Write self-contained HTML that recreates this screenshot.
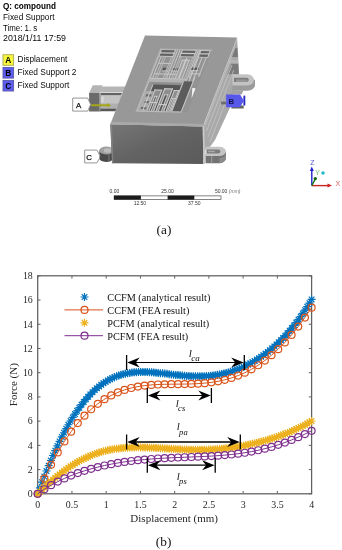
<!DOCTYPE html>
<html lang="en"><head><meta charset="utf-8"><title>Figure</title>
<style>html,body{margin:0;padding:0;background:#fff}body{width:342px;height:550px;overflow:hidden}svg{display:block}</style>
</head><body>
<svg width="342" height="550" viewBox="0 0 342 550">
<defs>
<g id="st"><path d="M-4.0 0H4.0M0 -4.0V4.0M-2.80 -2.80L2.80 2.80M-2.80 2.80L2.80 -2.80" fill="none" stroke-width="1.2"/></g>
<circle id="ci" r="3.5" fill="none" stroke-width="1.2"/>
</defs>
<rect width="342" height="550" fill="#fff"/>
<defs><linearGradient id="fg" x1="0" y1="0" x2="1" y2="1"><stop offset="0" stop-color="#767676"/><stop offset="0.5" stop-color="#636363"/><stop offset="1" stop-color="#5a5a5a"/></linearGradient></defs>
<g id="model">
<polygon points="102,86.4 127,86.4 124.5,92.6 99.5,92.6" fill="#b6b6b6"/>
<polygon points="100.5,93 122,93 121,95.5 100.5,95.5" fill="#636363"/>
<polygon points="99.5,95.5 122,95.5 118.5,104 99.5,104" fill="#c4c4c4"/>
<polygon points="99.5,103.6 119,103.6 116.5,108.6 99.5,108.6" fill="#b0b0b0"/>
<polygon points="99.5,108.6 116.5,108.6 115.4,111.2 99.5,111.2" fill="#585858"/>
<polygon points="92.8,85.2 102.6,85.2 99.6,93 89.1,93" fill="#b4b4b4"/>
<rect x="89.1" y="93" width="10.4" height="18.5" fill="#6a6a6a"/>
<rect x="99.5" y="93" width="1" height="18.5" fill="#8a8a8a"/>
<rect x="101.3" y="96.5" width="2.2" height="6" fill="#dadada"/>
<path d="M91.2 104.2H107.4V102.9l3.7 2.3l-3.7 2.3V106.2H91.2z" fill="#a6a61a"/>
<path d="M99.3 150.6v7.6a7 3.8 0 0 0 13 1.8V150.6z" fill="#4a4a4a"/>
<rect x="108.4" y="153.5" width="1.1" height="8" fill="#777"/>
<ellipse cx="106.4" cy="150.5" rx="7.2" ry="3.9" fill="#a0a0a0"/>
<ellipse cx="107.8" cy="150.5" rx="4" ry="2.2" fill="#bcbcbc"/>
<polygon points="202.7,126.6 237.1,37.4 239.2,75 233.3,92 230.3,106.9 215,140 210.4,146.3 205,150 203.4,164" fill="#a9a9a9"/>
<polygon points="234.6,47.8 237.4,47.8 237.9,57 231.2,57" fill="#7a7a7a"/>
<polygon points="231.4,63.5 238.2,63.5 238.7,74.3 227.4,74.3" fill="#7a7a7a"/>
<polygon points="229.8,59.8 238,59.8 238.2,63.5 228.4,63.5" fill="#b4b4b4"/>
<path d="M236.6 39.2L203.8 124.6" stroke="#d2d2d2" stroke-width="1.0" fill="none"/>
<path d="M235.3 47L205 125.6" stroke="#c4c4c4" stroke-width="0.8" fill="none"/>
<path d="M232 65L206.5 131" stroke="#c6c6c6" stroke-width="0.8" fill="none"/>
<path d="M233.8 70L208 137" stroke="#c0c0c0" stroke-width="0.8" fill="none"/>
<path d="M226.3 100L210 142" stroke="#c6c6c6" stroke-width="0.8" fill="none"/>
<path d="M232.3 80v10.7H247.5a7.5 5.5 0 0 0 7.5-5.5v-5.5z" fill="#9b9b9b"/>
<path d="M232.3 74.3H247.4a6.6 5.55 0 0 1 0 11.1H232.3z" fill="#c3c3c3"/>
<path d="M234 77.8H246.4a2.4 2.05 0 0 1 0 4.1H234z" fill="#7d7d7d"/>
<path d="M236 79.6H246a1.3 1.1 0 0 1 0 2.3H236z" fill="#959595"/>
<polygon points="232,90.5 243.5,90.5 241.5,94.6 230.5,94.6" fill="#a2a2a2"/>
<rect x="221" y="101.6" width="5.5" height="2.8" fill="#6e6e6e"/>
<path d="M205.5 154v9.3H219a7 5.5 0 0 0 7-5.5V152z" fill="#737373"/>
<path d="M219.5 163.2a7 5.5 0 0 0 6.5-5.5V153a7 5 0 0 1-6.5 5z" fill="#8c8c8c"/>
<path d="M205.5 146.8H219.3a6.6 4.6 0 0 1 0 9.2H205.5z" fill="#c4c4c4"/>
<path d="M206.8 149.4H218a2.4 2 0 0 1 0 4H206.8z" fill="#7c7c7c"/>
<rect x="208" y="150.8" width="7" height="1.4" fill="#a8a8a8"/>
<rect x="211.2" y="156" width="1" height="7.3" fill="#a0a0a0"/>
<polygon points="110.3,124.3 202.7,126.6 203.4,164 112,163.2" fill="url(#fg)"/>
<polygon points="110.3,124.3 112,124.4 113.4,163.2 112,163.2" fill="#828282"/>
<polygon points="202.7,126.6 204.3,126 205,164 203.4,164" fill="#c8c8c8"/>
<polygon points="145,35.5 237.1,37.4 202.7,126.6 110.3,124.3" fill="#989898"/>
<polygon points="111.3,121.8 204.4,124.1 202.7,126.6 110.3,124.3" fill="#a9a9a9"/>
<g transform="matrix(92.2 2.1 -34.7 88.8 145 35.5)">
<rect x="0.2250" y="0.1450" width="0.5550" height="0.7050" fill="#939393"/>
<rect x="0.2300" y="0.1480" width="0.1650" height="0.0840" fill="#c9c9c9"/>
<rect x="0.2420" y="0.1580" width="0.1410" height="0.0250" fill="#626262"/>
<rect x="0.2420" y="0.1970" width="0.1410" height="0.0260" fill="#626262"/>
<rect x="0.4570" y="0.1480" width="0.1650" height="0.0840" fill="#c9c9c9"/>
<rect x="0.4690" y="0.1580" width="0.1410" height="0.0250" fill="#626262"/>
<rect x="0.4690" y="0.1970" width="0.1410" height="0.0260" fill="#626262"/>
<rect x="0.6570" y="0.1480" width="0.1150" height="0.0840" fill="#c9c9c9"/>
<rect x="0.6690" y="0.1580" width="0.0910" height="0.0250" fill="#626262"/>
<rect x="0.6690" y="0.1970" width="0.0910" height="0.0260" fill="#626262"/>
<rect x="0.4050" y="0.1480" width="0.0110" height="0.3220" fill="#c9c9c9"/>
<rect x="0.4320" y="0.1480" width="0.0110" height="0.3220" fill="#c9c9c9"/>
<rect x="0.6300" y="0.1480" width="0.0110" height="0.3220" fill="#c9c9c9"/>
<rect x="0.6480" y="0.1480" width="0.0110" height="0.3220" fill="#c9c9c9"/>
<rect x="0.2280" y="0.2320" width="0.0110" height="0.6180" fill="#c9c9c9"/>
<rect x="0.2550" y="0.2320" width="0.0110" height="0.2380" fill="#c9c9c9"/>
<rect x="0.2660" y="0.3000" width="0.1340" height="0.0110" fill="#c9c9c9"/>
<rect x="0.3300" y="0.3550" width="0.0350" height="0.0300" fill="#555"/>
<rect x="0.4450" y="0.3550" width="0.0650" height="0.0300" fill="#555"/>
<rect x="0.6400" y="0.3450" width="0.0750" height="0.0300" fill="#555"/>
<rect x="0.3300" y="0.3850" width="0.0700" height="0.0110" fill="#c9c9c9"/>
<rect x="0.4450" y="0.3850" width="0.0750" height="0.0110" fill="#c9c9c9"/>
<rect x="0.6400" y="0.3750" width="0.0800" height="0.0110" fill="#c9c9c9"/>
<rect x="0.6600" y="0.2320" width="0.0110" height="0.3280" fill="#c9c9c9"/>
<rect x="0.7000" y="0.2320" width="0.0110" height="0.2680" fill="#c9c9c9"/>
<rect x="0.7450" y="0.2320" width="0.0110" height="0.2180" fill="#c9c9c9"/>
<rect x="0.6600" y="0.4100" width="0.1000" height="0.0110" fill="#c9c9c9"/>
<rect x="0.2850" y="0.2320" width="0.0090" height="0.2380" fill="#bdbdbd"/>
<rect x="0.3050" y="0.2320" width="0.0090" height="0.2380" fill="#bdbdbd"/>
<rect x="0.3700" y="0.2320" width="0.0090" height="0.2380" fill="#bdbdbd"/>
<rect x="0.3880" y="0.2320" width="0.0090" height="0.2380" fill="#bdbdbd"/>
<rect x="0.4600" y="0.2320" width="0.0090" height="0.2380" fill="#bdbdbd"/>
<rect x="0.4780" y="0.2320" width="0.0090" height="0.2380" fill="#bdbdbd"/>
<rect x="0.6000" y="0.2320" width="0.0090" height="0.2380" fill="#bdbdbd"/>
<rect x="0.6150" y="0.2320" width="0.0090" height="0.2380" fill="#bdbdbd"/>
<rect x="0.2660" y="0.4200" width="0.2340" height="0.0110" fill="#c9c9c9"/>
<rect x="0.2220" y="0.1400" width="0.5630" height="0.0100" fill="#b4b4b4"/>
<rect x="0.2180" y="0.1400" width="0.0110" height="0.7150" fill="#b4b4b4"/>
<rect x="0.5000" y="0.2600" width="0.0850" height="0.2100" fill="#a2a2a2"/>
<rect x="0.5000" y="0.2600" width="0.0110" height="0.2100" fill="#c9c9c9"/>
<rect x="0.5740" y="0.2600" width="0.0110" height="0.2100" fill="#c9c9c9"/>
<rect x="0.5350" y="0.2400" width="0.0150" height="0.2300" fill="#d0d0d0"/>
<rect x="0.5000" y="0.2600" width="0.0850" height="0.0120" fill="#c9c9c9"/>
<rect x="0.2350" y="0.4710" width="0.4050" height="0.0450" fill="#b2b2b2"/>
<rect x="0.2350" y="0.4710" width="0.4050" height="0.0100" fill="#c6c6c6"/>
<rect x="0.2850" y="0.5270" width="0.4200" height="0.0180" fill="#8c8c8c"/>
<rect x="0.2850" y="0.5450" width="0.3150" height="0.2950" fill="#565656"/>
<rect x="0.6000" y="0.5000" width="0.1050" height="0.3400" fill="#5c5c5c"/>
<rect x="0.2400" y="0.6200" width="0.0900" height="0.2300" fill="#ababab"/>
<rect x="0.2620" y="0.6550" width="0.0580" height="0.0250" fill="#686868"/>
<rect x="0.2750" y="0.7300" width="0.0450" height="0.0250" fill="#686868"/>
<rect x="0.2620" y="0.8000" width="0.0580" height="0.0220" fill="#686868"/>
<rect x="0.3300" y="0.6000" width="0.0850" height="0.2400" fill="#8d8d8d"/>
<rect x="0.3300" y="0.6000" width="0.0850" height="0.0120" fill="#c9c9c9"/>
<rect x="0.3300" y="0.6000" width="0.0120" height="0.2400" fill="#c9c9c9"/>
<rect x="0.4030" y="0.6000" width="0.0120" height="0.2400" fill="#c9c9c9"/>
<rect x="0.3550" y="0.6700" width="0.0350" height="0.1700" fill="#565656"/>
<rect x="0.3550" y="0.6700" width="0.0350" height="0.0120" fill="#c9c9c9"/>
<rect x="0.3550" y="0.6700" width="0.0120" height="0.1700" fill="#c9c9c9"/>
<rect x="0.3780" y="0.6700" width="0.0120" height="0.1700" fill="#c9c9c9"/>
<rect x="0.4300" y="0.5850" width="0.0950" height="0.2550" fill="#8d8d8d"/>
<rect x="0.4300" y="0.5850" width="0.0950" height="0.0120" fill="#c9c9c9"/>
<rect x="0.4300" y="0.5850" width="0.0120" height="0.2550" fill="#c9c9c9"/>
<rect x="0.5130" y="0.5850" width="0.0120" height="0.2550" fill="#c9c9c9"/>
<rect x="0.4550" y="0.6500" width="0.0450" height="0.1900" fill="#565656"/>
<rect x="0.4550" y="0.6500" width="0.0450" height="0.0120" fill="#c9c9c9"/>
<rect x="0.4550" y="0.6500" width="0.0120" height="0.1900" fill="#c9c9c9"/>
<rect x="0.4880" y="0.6500" width="0.0120" height="0.1900" fill="#c9c9c9"/>
<rect x="0.5400" y="0.6000" width="0.0600" height="0.2400" fill="#8d8d8d"/>
<rect x="0.5400" y="0.6000" width="0.0600" height="0.0120" fill="#c9c9c9"/>
<rect x="0.5400" y="0.6000" width="0.0120" height="0.2400" fill="#c9c9c9"/>
<rect x="0.5880" y="0.6000" width="0.0120" height="0.2400" fill="#c9c9c9"/>
<rect x="0.5560" y="0.6900" width="0.0290" height="0.1500" fill="#565656"/>
<rect x="0.5560" y="0.6900" width="0.0290" height="0.0120" fill="#c9c9c9"/>
<rect x="0.5560" y="0.6900" width="0.0120" height="0.1500" fill="#c9c9c9"/>
<rect x="0.5730" y="0.6900" width="0.0120" height="0.1500" fill="#c9c9c9"/>
<rect x="0.3300" y="0.7400" width="0.0850" height="0.0120" fill="#c9c9c9"/>
<rect x="0.4300" y="0.7600" width="0.0950" height="0.0120" fill="#c9c9c9"/>
<rect x="0.2850" y="0.5450" width="0.0120" height="0.2950" fill="#c9c9c9"/>
<rect x="0.6000" y="0.5000" width="0.0120" height="0.3400" fill="#c9c9c9"/>
<rect x="0.7050" y="0.4500" width="0.0110" height="0.3900" fill="#c9c9c9"/>
<polygon points="0.73,0.575 0.765,0.575 0.765,0.69" fill="#f4f4f4"/>
<rect x="0.2400" y="0.8400" width="0.4800" height="0.0120" fill="#b8b8b8"/>
</g>
<path d="M72.7 98.1H87.6L90.7 104.6L87.6 111.1H72.7z" fill="#fff" stroke="#8a8a8a" stroke-width="0.9"/>
<text x="78.6" y="107.8" text-anchor="middle" font-family="'Liberation Sans', sans-serif" font-size="7.9" fill="#111" stroke="#111" stroke-width="0.25">A</text>
<path d="M84.7 150.1H96.9L99.7 155.2V158L96.9 162.9H84.7z" fill="#fff" stroke="#8a8a8a" stroke-width="0.9"/>
<text x="89.2" y="159.8" text-anchor="middle" font-family="'Liberation Sans', sans-serif" font-size="7.9" fill="#111" stroke="#111" stroke-width="0.25">C</text>
<rect x="231.4" y="105.5" width="12.3" height="3" fill="#66665a"/>
<rect x="243.4" y="95.6" width="1.9" height="9.9" fill="#2a2ac4"/>
<path d="M226.1 94.4H240.1L243.9 100.8L240.1 107.3H226.1z" fill="#5757ea"/>
<text x="231.3" y="104.1" text-anchor="middle" font-family="'Liberation Sans', sans-serif" font-weight="bold" font-size="7.8" fill="#15154a">B</text>
</g>
<g font-family="'Liberation Sans', sans-serif" font-size="8.3" fill="#0a0a0a">
<text x="3" y="8.8" font-weight="bold" fill="#000" textLength="53" lengthAdjust="spacingAndGlyphs">Q: compound</text>
<text x="3" y="19.9" textLength="51.5" lengthAdjust="spacingAndGlyphs">Fixed Support</text>
<text x="3" y="30.6" textLength="34.3" lengthAdjust="spacingAndGlyphs">Time: 1. s</text>
<text x="3" y="41.1" textLength="63" lengthAdjust="spacingAndGlyphs">2018/1/11 17:59</text>
<text x="17.6" y="62.3" textLength="49.8" lengthAdjust="spacingAndGlyphs">Displacement</text>
<text x="17.6" y="75.3" textLength="58.9" lengthAdjust="spacingAndGlyphs">Fixed Support 2</text>
<text x="17.6" y="88.2" textLength="51.7" lengthAdjust="spacingAndGlyphs">Fixed Support</text>
</g>
<rect x="3" y="54.7" width="10.6" height="10.6" fill="#f6f63c" stroke="#a8a850" stroke-width="0.9"/>
<text x="8.3" y="63.0" text-anchor="middle" font-family="'Liberation Sans', sans-serif" font-weight="bold" font-size="8.3" fill="#000">A</text>
<rect x="3" y="67.5" width="10.6" height="10.6" fill="#5c5cf0" stroke="#5a5aa8" stroke-width="0.9"/>
<text x="8.3" y="75.8" text-anchor="middle" font-family="'Liberation Sans', sans-serif" font-weight="bold" font-size="8.3" fill="#000">B</text>
<rect x="3" y="80.4" width="10.6" height="10.6" fill="#5c5cf0" stroke="#5a5aa8" stroke-width="0.9"/>
<text x="8.3" y="88.7" text-anchor="middle" font-family="'Liberation Sans', sans-serif" font-weight="bold" font-size="8.3" fill="#000">C</text>
<rect x="114.2" y="195.9" width="106.8" height="3.4" fill="#fff" stroke="#333" stroke-width="0.6"/>
<rect x="113.9" y="195.6" width="27.00" height="4.0" fill="#1c1c1c"/>
<rect x="167.60" y="195.6" width="26.70" height="4.0" fill="#1c1c1c"/>
<g font-family="'Liberation Sans', sans-serif" font-size="5" fill="#333">
<text x="114.4" y="193.3" text-anchor="middle">0.00</text>
<text x="167.6" y="193.3" text-anchor="middle">25.00</text>
<text x="214.9" y="193.3">50.00 <tspan fill="#777" font-style="italic">(mm)</tspan></text>
<text x="139.9" y="204.9" text-anchor="middle">12.50</text>
<text x="194.3" y="204.9" text-anchor="middle">37.50</text>
</g>
<g>
<path d="M311.8 185.6V169.5" stroke="#2222cc" stroke-width="1.4" fill="none"/><path d="M311.8 166.5l-2 4.5h4z" fill="#2222cc"/>
<path d="M311.8 185.6H328" stroke="#cc2222" stroke-width="1.4" fill="none"/><path d="M332 185.6l-4.5-2v4z" fill="#cc2222"/>
<path d="M311.8 185.6L315 179.5" stroke="#117711" stroke-width="1.4" fill="none"/><circle cx="315.3" cy="178.6" r="1.7" fill="#116611"/>
<circle cx="323" cy="173" r="1.8" fill="#22bbcc"/>
<g font-family="'Liberation Sans', sans-serif" font-size="7" text-anchor="middle">
<text x="312.4" y="164.6" fill="#5858cc">Z</text><text x="317.6" y="175.2" fill="#66bb66">Y</text><text x="337.8" y="186.2" fill="#dd6666">X</text>
</g></g>
<g font-family="'Liberation Serif', serif" font-size="13.3" fill="#111" text-anchor="middle">
<text x="164" y="234.2">(a)</text>
<text x="163.6" y="545.5">(b)</text>
</g>
<g>
<rect x="37.7" y="275.8" width="273.90000000000003" height="218.0" fill="none" stroke="#606060" stroke-width="1.25"/>
<path d="M37.70 493.8v-2.8M37.70 275.8v2.8M71.94 493.8v-2.8M71.94 275.8v2.8M106.18 493.8v-2.8M106.18 275.8v2.8M140.41 493.8v-2.8M140.41 275.8v2.8M174.65 493.8v-2.8M174.65 275.8v2.8M208.89 493.8v-2.8M208.89 275.8v2.8M243.12 493.8v-2.8M243.12 275.8v2.8M277.36 493.8v-2.8M277.36 275.8v2.8M311.60 493.8v-2.8M311.60 275.8v2.8M37.7 493.80h2.8M311.6 493.80h-2.8M37.7 469.58h2.8M311.6 469.58h-2.8M37.7 445.36h2.8M311.6 445.36h-2.8M37.7 421.13h2.8M311.6 421.13h-2.8M37.7 396.91h2.8M311.6 396.91h-2.8M37.7 372.69h2.8M311.6 372.69h-2.8M37.7 348.47h2.8M311.6 348.47h-2.8M37.7 324.24h2.8M311.6 324.24h-2.8M37.7 300.02h2.8M311.6 300.02h-2.8M37.7 275.80h2.8M311.6 275.80h-2.8" stroke="#606060" stroke-width="1" fill="none"/>
<g font-family="'Liberation Serif', serif" font-size="9.9" fill="#262626">
<text x="37.7" y="508.2" text-anchor="middle">0</text>
<text x="71.9" y="508.2" text-anchor="middle">0.5</text>
<text x="106.2" y="508.2" text-anchor="middle">1</text>
<text x="140.4" y="508.2" text-anchor="middle">1.5</text>
<text x="174.7" y="508.2" text-anchor="middle">2</text>
<text x="208.9" y="508.2" text-anchor="middle">2.5</text>
<text x="243.1" y="508.2" text-anchor="middle">3</text>
<text x="277.4" y="508.2" text-anchor="middle">3.5</text>
<text x="311.6" y="508.2" text-anchor="middle">4</text>
<text x="32.8" y="497.1" text-anchor="end">0</text>
<text x="32.8" y="472.9" text-anchor="end">2</text>
<text x="32.8" y="448.7" text-anchor="end">4</text>
<text x="32.8" y="424.4" text-anchor="end">6</text>
<text x="32.8" y="400.2" text-anchor="end">8</text>
<text x="32.8" y="376.0" text-anchor="end">10</text>
<text x="32.8" y="351.8" text-anchor="end">12</text>
<text x="32.8" y="327.5" text-anchor="end">14</text>
<text x="32.8" y="303.3" text-anchor="end">16</text>
<text x="32.8" y="279.1" text-anchor="end">18</text>
</g>
<g font-family="'Liberation Serif', serif" font-size="11" fill="#262626" text-anchor="middle">
<text x="174.2" y="522">Displacement (mm)</text>
<text transform="translate(17 384.7) rotate(-90)">Force (N)</text>
</g>
<g stroke="#0072BD">
<use href="#st" x="37.70" y="493.80"/><use href="#st" x="39.89" y="487.90"/><use href="#st" x="42.08" y="482.13"/><use href="#st" x="44.27" y="476.50"/><use href="#st" x="46.46" y="471.02"/><use href="#st" x="48.66" y="465.69"/><use href="#st" x="50.85" y="460.51"/><use href="#st" x="53.04" y="455.48"/><use href="#st" x="55.23" y="450.61"/><use href="#st" x="57.42" y="445.90"/><use href="#st" x="59.61" y="441.35"/><use href="#st" x="61.80" y="436.96"/><use href="#st" x="63.99" y="432.73"/><use href="#st" x="66.19" y="428.67"/><use href="#st" x="68.38" y="424.76"/><use href="#st" x="70.57" y="421.02"/><use href="#st" x="72.76" y="417.45"/><use href="#st" x="74.95" y="414.03"/><use href="#st" x="77.14" y="410.77"/><use href="#st" x="79.33" y="407.66"/><use href="#st" x="81.52" y="404.72"/><use href="#st" x="83.72" y="401.92"/><use href="#st" x="85.91" y="399.28"/><use href="#st" x="88.10" y="396.78"/><use href="#st" x="90.29" y="394.43"/><use href="#st" x="92.48" y="392.22"/><use href="#st" x="94.67" y="390.15"/><use href="#st" x="96.86" y="388.22"/><use href="#st" x="99.05" y="386.42"/><use href="#st" x="101.24" y="384.75"/><use href="#st" x="103.44" y="383.20"/><use href="#st" x="105.63" y="381.77"/><use href="#st" x="107.82" y="380.46"/><use href="#st" x="110.01" y="379.27"/><use href="#st" x="112.20" y="378.18"/><use href="#st" x="114.39" y="377.20"/><use href="#st" x="116.58" y="376.32"/><use href="#st" x="118.77" y="375.53"/><use href="#st" x="120.97" y="374.84"/><use href="#st" x="123.16" y="374.24"/><use href="#st" x="125.35" y="373.71"/><use href="#st" x="127.54" y="373.27"/><use href="#st" x="129.73" y="372.90"/><use href="#st" x="131.92" y="372.60"/><use href="#st" x="134.11" y="372.37"/><use href="#st" x="136.30" y="372.20"/><use href="#st" x="138.50" y="372.08"/><use href="#st" x="140.69" y="372.02"/><use href="#st" x="142.88" y="372.00"/><use href="#st" x="145.07" y="372.03"/><use href="#st" x="147.26" y="372.10"/><use href="#st" x="149.45" y="372.21"/><use href="#st" x="151.64" y="372.34"/><use href="#st" x="153.83" y="372.51"/><use href="#st" x="156.02" y="372.70"/><use href="#st" x="158.22" y="372.91"/><use href="#st" x="160.41" y="373.13"/><use href="#st" x="162.60" y="373.37"/><use href="#st" x="164.79" y="373.62"/><use href="#st" x="166.98" y="373.87"/><use href="#st" x="169.17" y="374.13"/><use href="#st" x="171.36" y="374.38"/><use href="#st" x="173.55" y="374.64"/><use href="#st" x="175.75" y="374.88"/><use href="#st" x="177.94" y="375.11"/><use href="#st" x="180.13" y="375.33"/><use href="#st" x="182.32" y="375.54"/><use href="#st" x="184.51" y="375.73"/><use href="#st" x="186.70" y="375.89"/><use href="#st" x="188.89" y="376.03"/><use href="#st" x="191.08" y="376.15"/><use href="#st" x="193.28" y="376.24"/><use href="#st" x="195.47" y="376.30"/><use href="#st" x="197.66" y="376.32"/><use href="#st" x="199.85" y="376.31"/><use href="#st" x="202.04" y="376.27"/><use href="#st" x="204.23" y="376.19"/><use href="#st" x="206.42" y="376.07"/><use href="#st" x="208.61" y="375.90"/><use href="#st" x="210.80" y="375.70"/><use href="#st" x="213.00" y="375.45"/><use href="#st" x="215.19" y="375.16"/><use href="#st" x="217.38" y="374.82"/><use href="#st" x="219.57" y="374.43"/><use href="#st" x="221.76" y="373.99"/><use href="#st" x="223.95" y="373.50"/><use href="#st" x="226.14" y="372.97"/><use href="#st" x="228.33" y="372.38"/><use href="#st" x="230.53" y="371.73"/><use href="#st" x="232.72" y="371.04"/><use href="#st" x="234.91" y="370.29"/><use href="#st" x="237.10" y="369.48"/><use href="#st" x="239.29" y="368.62"/><use href="#st" x="241.48" y="367.70"/><use href="#st" x="243.67" y="366.72"/><use href="#st" x="245.86" y="365.68"/><use href="#st" x="248.06" y="364.59"/><use href="#st" x="250.25" y="363.43"/><use href="#st" x="252.44" y="362.21"/><use href="#st" x="254.63" y="360.93"/><use href="#st" x="256.82" y="359.58"/><use href="#st" x="259.01" y="358.17"/><use href="#st" x="261.20" y="356.70"/><use href="#st" x="263.39" y="355.15"/><use href="#st" x="265.58" y="353.54"/><use href="#st" x="267.78" y="351.85"/><use href="#st" x="269.97" y="350.10"/><use href="#st" x="272.16" y="348.27"/><use href="#st" x="274.35" y="346.36"/><use href="#st" x="276.54" y="344.38"/><use href="#st" x="278.73" y="342.32"/><use href="#st" x="280.92" y="340.17"/><use href="#st" x="283.11" y="337.94"/><use href="#st" x="285.31" y="335.62"/><use href="#st" x="287.50" y="333.20"/><use href="#st" x="289.69" y="330.70"/><use href="#st" x="291.88" y="328.09"/><use href="#st" x="294.07" y="325.38"/><use href="#st" x="296.26" y="322.57"/><use href="#st" x="298.45" y="319.64"/><use href="#st" x="300.64" y="316.59"/><use href="#st" x="302.84" y="313.43"/><use href="#st" x="305.03" y="310.13"/><use href="#st" x="307.22" y="306.70"/><use href="#st" x="309.41" y="303.14"/><use href="#st" x="311.60" y="299.42"/>
</g>
<g stroke="#D95319"><polyline points="37.70,493.80 44.38,478.53 51.06,464.76 57.74,452.41 64.42,441.41 71.10,431.67 77.78,423.12 84.46,415.68 91.14,409.27 97.82,403.81 104.50,399.22 111.19,395.42 117.87,392.33 124.55,389.88 131.23,387.99 137.91,386.58 144.59,385.58 151.27,384.91 157.95,384.51 164.63,384.29 171.31,384.19 177.99,384.14 184.67,384.07 191.35,383.93 198.03,383.63 204.71,383.13 211.39,382.37 218.07,381.29 224.75,379.83 231.43,377.95 238.11,375.59 244.80,372.72 251.48,369.28 258.16,365.24 264.84,360.56 271.52,355.22 278.20,349.17 284.88,342.40 291.56,334.88 298.24,326.60 304.92,317.54 311.60,307.70" fill="none" stroke-width="1"/>
<use href="#ci" x="37.70" y="493.80"/><use href="#ci" x="44.38" y="478.53"/><use href="#ci" x="51.06" y="464.76"/><use href="#ci" x="57.74" y="452.41"/><use href="#ci" x="64.42" y="441.41"/><use href="#ci" x="71.10" y="431.67"/><use href="#ci" x="77.78" y="423.12"/><use href="#ci" x="84.46" y="415.68"/><use href="#ci" x="91.14" y="409.27"/><use href="#ci" x="97.82" y="403.81"/><use href="#ci" x="104.50" y="399.22"/><use href="#ci" x="111.19" y="395.42"/><use href="#ci" x="117.87" y="392.33"/><use href="#ci" x="124.55" y="389.88"/><use href="#ci" x="131.23" y="387.99"/><use href="#ci" x="137.91" y="386.58"/><use href="#ci" x="144.59" y="385.58"/><use href="#ci" x="151.27" y="384.91"/><use href="#ci" x="157.95" y="384.51"/><use href="#ci" x="164.63" y="384.29"/><use href="#ci" x="171.31" y="384.19"/><use href="#ci" x="177.99" y="384.14"/><use href="#ci" x="184.67" y="384.07"/><use href="#ci" x="191.35" y="383.93"/><use href="#ci" x="198.03" y="383.63"/><use href="#ci" x="204.71" y="383.13"/><use href="#ci" x="211.39" y="382.37"/><use href="#ci" x="218.07" y="381.29"/><use href="#ci" x="224.75" y="379.83"/><use href="#ci" x="231.43" y="377.95"/><use href="#ci" x="238.11" y="375.59"/><use href="#ci" x="244.80" y="372.72"/><use href="#ci" x="251.48" y="369.28"/><use href="#ci" x="258.16" y="365.24"/><use href="#ci" x="264.84" y="360.56"/><use href="#ci" x="271.52" y="355.22"/><use href="#ci" x="278.20" y="349.17"/><use href="#ci" x="284.88" y="342.40"/><use href="#ci" x="291.56" y="334.88"/><use href="#ci" x="298.24" y="326.60"/><use href="#ci" x="304.92" y="317.54"/><use href="#ci" x="311.60" y="307.70"/>
</g>
<g stroke="#EDB120">
<use href="#st" x="37.70" y="493.80"/><use href="#st" x="39.89" y="491.68"/><use href="#st" x="42.08" y="489.59"/><use href="#st" x="44.27" y="487.54"/><use href="#st" x="46.46" y="485.51"/><use href="#st" x="48.66" y="483.52"/><use href="#st" x="50.85" y="481.58"/><use href="#st" x="53.04" y="479.68"/><use href="#st" x="55.23" y="477.82"/><use href="#st" x="57.42" y="476.02"/><use href="#st" x="59.61" y="474.26"/><use href="#st" x="61.80" y="472.56"/><use href="#st" x="63.99" y="470.92"/><use href="#st" x="66.19" y="469.33"/><use href="#st" x="68.38" y="467.80"/><use href="#st" x="70.57" y="466.33"/><use href="#st" x="72.76" y="464.92"/><use href="#st" x="74.95" y="463.56"/><use href="#st" x="77.14" y="462.27"/><use href="#st" x="79.33" y="461.04"/><use href="#st" x="81.52" y="459.87"/><use href="#st" x="83.72" y="458.76"/><use href="#st" x="85.91" y="457.70"/><use href="#st" x="88.10" y="456.71"/><use href="#st" x="90.29" y="455.77"/><use href="#st" x="92.48" y="454.90"/><use href="#st" x="94.67" y="454.08"/><use href="#st" x="96.86" y="453.31"/><use href="#st" x="99.05" y="452.60"/><use href="#st" x="101.24" y="451.94"/><use href="#st" x="103.44" y="451.34"/><use href="#st" x="105.63" y="450.78"/><use href="#st" x="107.82" y="450.28"/><use href="#st" x="110.01" y="449.82"/><use href="#st" x="112.20" y="449.40"/><use href="#st" x="114.39" y="449.03"/><use href="#st" x="116.58" y="448.71"/><use href="#st" x="118.77" y="448.42"/><use href="#st" x="120.97" y="448.18"/><use href="#st" x="123.16" y="447.97"/><use href="#st" x="125.35" y="447.79"/><use href="#st" x="127.54" y="447.65"/><use href="#st" x="129.73" y="447.54"/><use href="#st" x="131.92" y="447.46"/><use href="#st" x="134.11" y="447.40"/><use href="#st" x="136.30" y="447.37"/><use href="#st" x="138.50" y="447.37"/><use href="#st" x="140.69" y="447.39"/><use href="#st" x="142.88" y="447.42"/><use href="#st" x="145.07" y="447.48"/><use href="#st" x="147.26" y="447.55"/><use href="#st" x="149.45" y="447.63"/><use href="#st" x="151.64" y="447.73"/><use href="#st" x="153.83" y="447.83"/><use href="#st" x="156.02" y="447.95"/><use href="#st" x="158.22" y="448.07"/><use href="#st" x="160.41" y="448.20"/><use href="#st" x="162.60" y="448.33"/><use href="#st" x="164.79" y="448.47"/><use href="#st" x="166.98" y="448.60"/><use href="#st" x="169.17" y="448.74"/><use href="#st" x="171.36" y="448.87"/><use href="#st" x="173.55" y="448.99"/><use href="#st" x="175.75" y="449.12"/><use href="#st" x="177.94" y="449.23"/><use href="#st" x="180.13" y="449.34"/><use href="#st" x="182.32" y="449.44"/><use href="#st" x="184.51" y="449.53"/><use href="#st" x="186.70" y="449.61"/><use href="#st" x="188.89" y="449.68"/><use href="#st" x="191.08" y="449.73"/><use href="#st" x="193.28" y="449.77"/><use href="#st" x="195.47" y="449.80"/><use href="#st" x="197.66" y="449.81"/><use href="#st" x="199.85" y="449.80"/><use href="#st" x="202.04" y="449.78"/><use href="#st" x="204.23" y="449.74"/><use href="#st" x="206.42" y="449.68"/><use href="#st" x="208.61" y="449.60"/><use href="#st" x="210.80" y="449.51"/><use href="#st" x="213.00" y="449.39"/><use href="#st" x="215.19" y="449.26"/><use href="#st" x="217.38" y="449.10"/><use href="#st" x="219.57" y="448.93"/><use href="#st" x="221.76" y="448.74"/><use href="#st" x="223.95" y="448.52"/><use href="#st" x="226.14" y="448.28"/><use href="#st" x="228.33" y="448.03"/><use href="#st" x="230.53" y="447.75"/><use href="#st" x="232.72" y="447.45"/><use href="#st" x="234.91" y="447.13"/><use href="#st" x="237.10" y="446.79"/><use href="#st" x="239.29" y="446.42"/><use href="#st" x="241.48" y="446.04"/><use href="#st" x="243.67" y="445.64"/><use href="#st" x="245.86" y="445.21"/><use href="#st" x="248.06" y="444.76"/><use href="#st" x="250.25" y="444.29"/><use href="#st" x="252.44" y="443.80"/><use href="#st" x="254.63" y="443.29"/><use href="#st" x="256.82" y="442.76"/><use href="#st" x="259.01" y="442.21"/><use href="#st" x="261.20" y="441.63"/><use href="#st" x="263.39" y="441.03"/><use href="#st" x="265.58" y="440.41"/><use href="#st" x="267.78" y="439.77"/><use href="#st" x="269.97" y="439.11"/><use href="#st" x="272.16" y="438.42"/><use href="#st" x="274.35" y="437.71"/><use href="#st" x="276.54" y="436.97"/><use href="#st" x="278.73" y="436.21"/><use href="#st" x="280.92" y="435.42"/><use href="#st" x="283.11" y="434.61"/><use href="#st" x="285.31" y="433.77"/><use href="#st" x="287.50" y="432.90"/><use href="#st" x="289.69" y="432.00"/><use href="#st" x="291.88" y="431.07"/><use href="#st" x="294.07" y="430.11"/><use href="#st" x="296.26" y="429.11"/><use href="#st" x="298.45" y="428.07"/><use href="#st" x="300.64" y="427.00"/><use href="#st" x="302.84" y="425.89"/><use href="#st" x="305.03" y="424.73"/><use href="#st" x="307.22" y="423.53"/><use href="#st" x="309.41" y="422.28"/><use href="#st" x="311.60" y="420.98"/>
</g>
<g stroke="#7E2F8E"><polyline points="37.70,493.80 44.38,489.24 51.06,485.20 57.74,481.61 64.42,478.42 71.10,475.59 77.78,473.07 84.46,470.83 91.14,468.84 97.82,467.08 104.50,465.52 111.19,464.15 117.87,462.95 124.55,461.90 131.23,460.99 137.91,460.21 144.59,459.55 151.27,458.99 157.95,458.52 164.63,458.13 171.31,457.79 177.99,457.50 184.67,457.24 191.35,456.98 198.03,456.72 204.71,456.42 211.39,456.07 218.07,455.65 224.75,455.12 231.43,454.48 238.11,453.69 244.80,452.74 251.48,451.60 258.16,450.26 264.84,448.69 271.52,446.89 278.20,444.83 284.88,442.53 291.56,439.96 298.24,437.14 304.92,434.08 311.60,430.80" fill="none" stroke-width="1"/>
<use href="#ci" x="37.70" y="493.80"/><use href="#ci" x="44.38" y="489.24"/><use href="#ci" x="51.06" y="485.20"/><use href="#ci" x="57.74" y="481.61"/><use href="#ci" x="64.42" y="478.42"/><use href="#ci" x="71.10" y="475.59"/><use href="#ci" x="77.78" y="473.07"/><use href="#ci" x="84.46" y="470.83"/><use href="#ci" x="91.14" y="468.84"/><use href="#ci" x="97.82" y="467.08"/><use href="#ci" x="104.50" y="465.52"/><use href="#ci" x="111.19" y="464.15"/><use href="#ci" x="117.87" y="462.95"/><use href="#ci" x="124.55" y="461.90"/><use href="#ci" x="131.23" y="460.99"/><use href="#ci" x="137.91" y="460.21"/><use href="#ci" x="144.59" y="459.55"/><use href="#ci" x="151.27" y="458.99"/><use href="#ci" x="157.95" y="458.52"/><use href="#ci" x="164.63" y="458.13"/><use href="#ci" x="171.31" y="457.79"/><use href="#ci" x="177.99" y="457.50"/><use href="#ci" x="184.67" y="457.24"/><use href="#ci" x="191.35" y="456.98"/><use href="#ci" x="198.03" y="456.72"/><use href="#ci" x="204.71" y="456.42"/><use href="#ci" x="211.39" y="456.07"/><use href="#ci" x="218.07" y="455.65"/><use href="#ci" x="224.75" y="455.12"/><use href="#ci" x="231.43" y="454.48"/><use href="#ci" x="238.11" y="453.69"/><use href="#ci" x="244.80" y="452.74"/><use href="#ci" x="251.48" y="451.60"/><use href="#ci" x="258.16" y="450.26"/><use href="#ci" x="264.84" y="448.69"/><use href="#ci" x="271.52" y="446.89"/><use href="#ci" x="278.20" y="444.83"/><use href="#ci" x="284.88" y="442.53"/><use href="#ci" x="291.56" y="439.96"/><use href="#ci" x="298.24" y="437.14"/><use href="#ci" x="304.92" y="434.08"/><use href="#ci" x="311.60" y="430.80"/>
</g>
<use href="#st" x="84.5" y="297" stroke="#0072BD"/>
<path d="M64.5 309.9H103" stroke="#D95319" stroke-width="1"/><use href="#ci" x="84.5" y="309.9" stroke="#D95319"/>
<use href="#st" x="84.5" y="322.8" stroke="#EDB120"/>
<path d="M64.5 335.7H103" stroke="#7E2F8E" stroke-width="1"/><use href="#ci" x="84.5" y="335.7" stroke="#7E2F8E"/>
<g font-family="'Liberation Serif', serif" font-size="10.25" fill="#111">
<text x="107.3" y="300.9">CCFM (analytical result)</text>
<text x="107.3" y="313.8">CCFM (FEA result)</text>
<text x="107.3" y="326.7">PCFM (analytical result)</text>
<text x="107.3" y="339.6">PCFM (FEA result)</text>
</g>
<path d="M126.6 355.0V370.0M244.3 355.0V370.0" stroke="#000" stroke-width="1.3" fill="none"/><path d="M134.6 362.5H236.3" stroke="#000" stroke-width="1.0" fill="none"/><path d="M127.19999999999999 362.5l12.5 -5l-4.0 5l4.0 5z" fill="#000"/><path d="M243.70000000000002 362.5l-12.5 -5l4.0 5l-4.0 5z" fill="#000"/>
<path d="M147.3 388.0V403.0M211.4 388.0V403.0" stroke="#000" stroke-width="1.3" fill="none"/><path d="M155.3 395.5H203.4" stroke="#000" stroke-width="1.0" fill="none"/><path d="M147.9 395.5l12.5 -5l-4.0 5l4.0 5z" fill="#000"/><path d="M210.8 395.5l-12.5 -5l4.0 5l-4.0 5z" fill="#000"/>
<path d="M126.6 434.5V449.5M240.3 434.5V449.5" stroke="#000" stroke-width="1.3" fill="none"/><path d="M134.6 442H232.3" stroke="#000" stroke-width="1.6" fill="none"/><path d="M127.19999999999999 442l12.5 -5l-4.0 5l4.0 5z" fill="#000"/><path d="M239.70000000000002 442l-12.5 -5l4.0 5l-4.0 5z" fill="#000"/>
<path d="M147.3 457.7V472.7M215.2 457.7V472.7" stroke="#000" stroke-width="1.3" fill="none"/><path d="M155.3 465.2H207.2" stroke="#000" stroke-width="1.2" fill="none"/><path d="M147.9 465.2l12.5 -5l-4.0 5l4.0 5z" fill="#000"/><path d="M214.6 465.2l-12.5 -5l4.0 5l-4.0 5z" fill="#000"/>
<text x="188.8" y="356.8" font-family="'Liberation Serif', serif" font-style="italic" font-size="11.2" fill="#111">l<tspan font-size="9.0" dy="4.4" dx="-0.6">ca</tspan></text>
<text x="175.7" y="407" font-family="'Liberation Serif', serif" font-style="italic" font-size="10.8" fill="#111">l<tspan font-size="8.6" dy="4.4" dx="-0.6">cs</tspan></text>
<text x="176.7" y="430.4" font-family="'Liberation Serif', serif" font-style="italic" font-size="10.8" fill="#111">l<tspan font-size="8.6" dy="4.4" dx="-0.6">pa</tspan></text>
<text x="176.7" y="480" font-family="'Liberation Serif', serif" font-style="italic" font-size="10.8" fill="#111">l<tspan font-size="8.6" dy="4.4" dx="-0.6">ps</tspan></text>
</g>
</svg>
</body></html>
